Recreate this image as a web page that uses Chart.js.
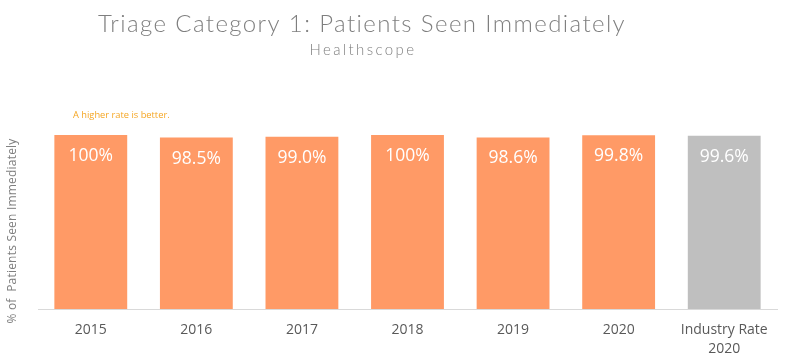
<!DOCTYPE html>
<html><head><meta charset="utf-8">
<script src="https://cdn.jsdelivr.net/npm/chart.js@4"></script>
<style>html,body{margin:0;padding:0;background:#fff}#wrap{width:787px;height:363px}</style>
</head><body><div id="wrap"><canvas id="c" width="787" height="363"></canvas></div>
<script>
const categories = [["2015"],["2016"],["2017"],["2018"],["2019"],["2020"],["Industry Rate","2020"]];
const values = [100, 98.5, 99.0, 100, 98.6, 99.8, 99.6];
const valueLabels = ["100%","98.5%","99.0%","100%","98.6%","99.8%","99.6%"];
const barColors = ["#FF9A66","#FF9A66","#FF9A66","#FF9A66","#FF9A66","#FF9A66","#BFBFBF"];
const titleText = "Triage Category 1: Patients Seen Immediately";
const subtitleText = "Healthscope";
const noteText = "A higher rate is better.";
const yTitle = "% of  Patients Seen Immediately";

const deco = {
  id:'deco',
  afterDatasetsDraw(chart){
    const ctx = chart.ctx;
    const meta = chart.getDatasetMeta(0);
    ctx.save();
    ctx.fillStyle = '#ffffff';
    ctx.font = '17.5px "Open Sans", sans-serif';
    ctx.textAlign = 'center';
    ctx.textBaseline = 'alphabetic';
    meta.data.forEach((bar,i)=>{ ctx.fillText(valueLabels[i], bar.x, bar.y + 26); });
    ctx.restore();
  },
  afterDraw(chart){
    const ctx = chart.ctx;
    const a = chart.chartArea;
    ctx.save();
    ctx.fillStyle = '#7f7f7f';
    ctx.textAlign = 'center';
    ctx.textBaseline = 'alphabetic';
    ctx.font = '300 24px Lato, sans-serif';
    ctx.letterSpacing = '1.4px';
    ctx.fillText(titleText, 362, 32);
    ctx.font = '300 15px Lato, sans-serif';
    ctx.letterSpacing = '2.4px';
    ctx.fillText(subtitleText, 363, 55);
    ctx.letterSpacing = '0px';
    ctx.fillStyle = '#F5A623';
    ctx.font = '9.3px "Open Sans", sans-serif';
    ctx.textAlign = 'left';
    ctx.fillText(noteText, 73, 118);
    ctx.fillStyle = '#7f7f7f';
    ctx.font = '12px "Open Sans", sans-serif';
    ctx.letterSpacing = '0.2px';
    ctx.translate(13, (a.top + a.bottom)/2 + 9);
    ctx.rotate(-Math.PI/2);
    ctx.textAlign = 'center';
    ctx.textBaseline = 'middle';
    ctx.fillText(yTitle, 0, 0);
    ctx.restore();
  }
};

new Chart(document.getElementById('c'), {
  type:'bar',
  data:{ labels: categories, datasets:[{ data: values, backgroundColor: barColors, borderWidth:0, barPercentage:0.69, categoryPercentage:1 }]},
  options:{
    responsive:false, animation:false,
    layout:{ padding:{ left:38, right:10, top:135, bottom:0 } },
    plugins:{ legend:{display:false}, tooltip:{enabled:false}, title:{display:false} },
    scales:{
      x:{ grid:{ display:false, drawTicks:false }, border:{ display:true, color:'#D9D9D9', width:1 },
          afterFit(scale){ scale.height = 54; },
          ticks:{ color:'#595959', font:{ size:14, family:'"Open Sans", sans-serif', lineHeight:1.4 }, padding:11, maxRotation:0 } },
      y:{ display:false, min:0, max:100 }
    }
  },
  plugins:[deco]
});
</script></body></html>
